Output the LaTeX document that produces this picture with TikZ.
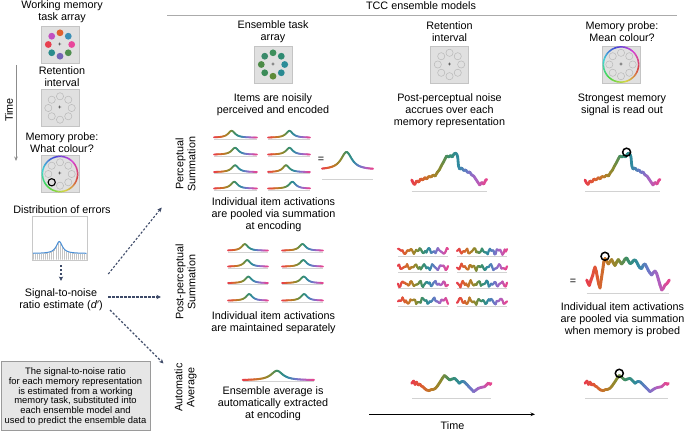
\documentclass[tikz,border=0pt]{standalone}
\usepackage{fontspec}
\setmainfont{Liberation Sans}
\usetikzlibrary{arrows.meta}
\definecolor{rb0}{HTML}{E83A50}
\definecolor{rb1}{HTML}{DE5A32}
\definecolor{rb2}{HTML}{C07A28}
\definecolor{rb3}{HTML}{8A8A2E}
\definecolor{rb4}{HTML}{3A8E6A}
\definecolor{rb5}{HTML}{2E8AA0}
\definecolor{rb6}{HTML}{6A78C8}
\definecolor{rb7}{HTML}{B060C0}
\definecolor{rb8}{HTML}{E8458C}
\definecolor{rb9}{HTML}{E8458C}
\definecolor{boxfill}{HTML}{E0E0E0}
\definecolor{boxedge}{HTML}{C4C4C4}
\definecolor{circgray}{HTML}{B9B9B9}
\definecolor{basecol}{HTML}{D2D2D2}
\definecolor{hdrcol}{HTML}{ABABAB}
\definecolor{dashblue}{HTML}{3D4A68}
\definecolor{distedge}{HTML}{C8C8C8}
\definecolor{histgray}{HTML}{C4C4C4}
\definecolor{distblue}{HTML}{4A8FD6}
\definecolor{notefill}{HTML}{E6E6E6}
\definecolor{noteedge}{HTML}{9A9A9A}
\definecolor{timegray}{HTML}{8C8C8C}
\newcommand\mainf{\fontsize{10.8}{12}\selectfont}
\newcommand\notef{\fontsize{9.4}{9.8}\selectfont}
% colour along the rainbow, t in [0,1]
\newcommand\rbsetcolor[1]{%
  \pgfmathsetmacro\rbt{max(0,min(0.9999,#1))}%
  \pgfmathtruncatemacro\rbs{floor(\rbt*8)}%
  \pgfmathtruncatemacro\rbn{\rbs+1}%
  \pgfmathtruncatemacro\rbp{round(100*(1-(\rbt*8-\rbs)))}%
  \colorlet{rbc}{rb\rbs!\rbp!rb\rbn}}
% rainbow curve from a function of \rt: x0, width, samples, line width, y expression
\newcommand\rbfunc[5]{%
  \def\rt{0}\pgfmathsetmacro\rbly{#5}\xdef\rbly{\rbly}\xdef\rblx{#1}%
  \foreach \i in {1,...,#3}{%
    \pgfmathsetmacro\rt{\i/#3}%
    \pgfmathsetmacro\rbx{#1+#2*\rt}%
    \pgfmathsetmacro\rby{#5}%
    \rbsetcolor{(\i-0.5)/#3}%
    \draw[rbc, line width=#4, line cap=round] (\rblx,\rbly) -- (\rbx,\rby);
    \xdef\rblx{\rbx}\xdef\rbly{\rby}%
  }}
% rainbow curve through points: x0, x1, line width, list macro
\newcommand\rbpts[4]{%
  \foreach \xx/\yy [remember=\xx as \px (initially -1), remember=\yy as \py (initially -1)] in #4 {%
    \ifdim\px pt<0pt\else
      \rbsetcolor{((\px+\xx)/2-#1)/(#2-#1)}%
      \draw[rbc, line width=#3, line cap=round] (\px,\py) -- (\xx,\yy);
    \fi}}
% small smooth bump: x0, width, baseline y, peak position, height
\newcommand\sbump[5]{%
  \draw[baseg] (#1,#3) -- ({#1+#2},#3);
  \rbfunc{#1}{#2}{36}{1.8}{#3-1.3-#5/(1+((\rt-#4)/0.095)^2)}}
% small noisy curve: x0, baseline y, a, b, p, q, seed
\newcommand\nsmall[7]{%
  \draw[baseg] (#1,#2) -- ({#1+50},#2);
  \pgfmathsetseed{#7}%
  \rbfunc{#1}{50}{44}{2.2}{#2-4.8-1.9*sin(#3*360*\rt+#5)-1.2*sin(#4*360*\rt+#6)-1.0*rand}}
\newcommand\shapeA{411.7/180, 413.2/183, 414.7/184.5, 416.7/181, 418.7/182, 420.7/179, 422.7/180, 425.2/177.5, 426.7/179, 428.7/176.5, 431.2/177, 433.2/175, 435.2/176, 437.2/172.5, 439.2/170, 441.2/166, 443.2/162.5, 445.2/158.5, 446.7/156, 448.7/157, 450.7/155.5, 452.2/157, 453.7/154.5, 455.2/153, 456.7/154, 457.7/157, 458.5/166, 459.7/169, 461.7/168, 463.7/170.5, 465.7/170, 467.7/172.5, 469.7/172, 471.7/175, 473.7/176, 475.7/179, 477.7/182, 479.7/185, 481.7/182.5, 483.7/184, 485.7/180, 486.7/179.5}
\newcommand\shapeB{586.7/280, 588/283, 589.3/285.5, 591/280, 592.7/275.5, 594/270, 595/267, 596.2/271, 597.3/277, 598.7/284, 600/288, 601.3/279, 602.7/270, 603.8/262, 605/258.5, 606.5/261, 608.3/264, 610/261.5, 611.7/259.5, 613.3/263, 615/265.5, 616.7/262, 618.3/259.5, 620/262, 621.7/264, 623.3/262, 625/259, 626.7/258, 628.3/261, 630/263.5, 631.7/263, 633.3/260.5, 635/260, 636.7/262, 638.3/265.5, 640/268, 641.7/268.5, 643.3/265, 645/264, 646.7/267, 648.3/270.5, 650/273, 651.7/275, 653.3/272.5, 655/271, 656.7/273.5, 658.3/279, 660/285, 661.7/290, 663.3/288.5, 665/285, 667/283.5, 669.3/280}
\newcommand\shapeC{585/383.3, 587/381, 588.5/384.5, 590/382, 591.7/385, 593.5/384, 595/386, 596.7/386.7, 598.5/388.5, 600.5/390, 603.3/390.7, 605.5/389.5, 607.5/389.5, 610/388.3, 612/386, 615/381.7, 617/378.5, 619.3/375.5, 621.5/377, 623/378.5, 625/380, 627.5/379, 630/378.3, 632.5/380.5, 635/383.3, 637.5/381.5, 640/381.7, 642.5/384, 645/386.7, 647.5/389, 650/391.7, 652.5/390, 655/388.3, 657.5/387.5, 661.7/386.7, 663.5/385, 665.5/383, 667/384.5, 668.3/383.3}
\newcommand\plusmark[2]{\node[font=\fontsize{6}{6}\selectfont] at (#1,#2) {+};}
\newcommand\emptyring[2]{\foreach \a in {0,45,...,315}{\draw[emptyc] ({#1+11.7*cos(\a)},{#2+11.7*sin(\a)}) circle[radius=3.6];}}
\newcommand\colwheel[2]{\foreach \a in {0,5,...,355}{%
  \pgfmathsetmacro\hh{mod(0.97+\a/360,1)}%
  \definecolor{wc}{hsb}{\hh,0.7,0.84}%
  \draw[wc, line width=1.5pt] ({#1+17.6*cos(\a)},{#2+17.6*sin(\a)}) -- ({#1+17.6*cos(\a+5.6)},{#2+17.6*sin(\a+5.6)});}}
\begin{document}
\begin{tikzpicture}[x=1pt,y=-1pt, every node/.style={inner sep=0pt, align=center, font=\mainf},
  arrbox/.style={draw=boxedge, fill=boxfill, line width=0.6pt, minimum width=38pt, minimum height=37pt},
  baseg/.style={draw=basecol, line width=0.9pt},
  emptyc/.style={draw=circgray, line width=0.5pt},
  probec/.style={draw=black, line width=1.5pt},
  dasharrow/.style={draw=dashblue, line width=1.1pt, dash pattern=on 2.2pt off 1.8pt, -{Stealth[length=4.5pt,width=4.2pt]}},
  timearrow/.style={line width=0.8pt, -{Stealth[length=4.5pt,width=3.6pt]}}]
\useasboundingbox (0,0) rectangle (685,433);

% ---------- left column ----------
\node (wmtitle) at (62,11.5) {Working memory\\task array};
\node[arrbox] (wmbox) at (60,44.5) {};
\plusmark{60}{44.5}
\foreach \a/\c in {-90/E0602E, -45/3A8FB5, 0/E8479B, 45/4F8F4F, 90/7464B5, 135/2A8C8C, 180/E8404F, 225/C24FC0}{
  \definecolor{dc}{HTML}{\c}
  \fill[dc] ({60+11.7*cos(\a)},{44.5+11.7*sin(\a)}) circle[radius=3.4];}
\node (rettitle) at (62,76.5) {Retention\\interval};
\node[arrbox] (retbox) at (60,108) {};
\plusmark{60}{108}
\emptyring{60}{108}
\node (probetitle) at (62,142.5) {Memory probe:\\What colour?};
\node[arrbox] (probebox) at (60,174) {};
\plusmark{60}{174}
\emptyring{60}{174}
\colwheel{60}{174}
\node[probec, circle, minimum size=7.2pt, line width=1.1pt] (wmprobe) at ({60+11.7*cos(135)},{174+11.7*sin(135)}) {};
\coordinate (tl0) at (16,65); \coordinate (tl1) at (16,161);
\draw[timearrow, draw=timegray] (tl0) -- (tl1);
\node[rotate=90] (timel) at (9,110) {Time};

\node (disttitle) at (62,209.5) {Distribution of errors};
\node[draw=distedge, fill=white, line width=0.6pt, minimum width=55pt, minimum height=44pt] (distbox) at (59.8,238) {};
\fill[histgray] (33,259.6) -- plot[domain=33:86.5, samples=90, smooth] (\x, {254-11.5/(1+((\x-59.3)/3.8)^2)}) -- (86.5,259.6) -- cycle;
\foreach \i in {0,...,26}{
  \draw[white, line width=0.35pt] ({34.2+\i*1.95},259.6) -- ({34.2+\i*1.95},{254.5-11.5/(1+((34.2+\i*1.95-59.3)/3.8)^2)});}
\draw[distblue, line width=1pt] plot[domain=33:86.5, samples=90, smooth] (\x, {253.5-12/(1+((\x-59.3)/3.8)^2)});
\node (snr) at (61,299.5) {Signal-to-noise\\ratio estimate (\textit{d}′)};
\coordinate (d0) at (61,265); \coordinate (d1) at (61,281);
\draw[dasharrow] (d0) -- (d1);
\coordinate (s1) at (108.3,274); \coordinate (e1) at (161.7,207.5);
\coordinate (s2) at (108.3,297); \coordinate (e2) at (161,297);
\coordinate (s3) at (110,310); \coordinate (e3) at (163.5,363.5);
\draw[dasharrow] (s1) -- (e1);
\draw[dasharrow] (s2) -- (e2);
\draw[dasharrow] (s3) -- (e3);
\node[draw=noteedge, fill=notefill, line width=0.5pt, minimum width=149pt, minimum height=69pt] (note) at (75.5,395.5) {};
\node[font=\notef] (notetext) at (75.5,396.5) {The signal-to-noise ratio\\for each memory representation\\is estimated from a working\\memory task, substituted into\\each ensemble model and\\used to predict the ensemble data};

% ---------- header ----------
\node (tcc) at (421,6) {TCC ensemble models};
\coordinate (h0) at (167,15.5); \coordinate (h1) at (677,15.5);
\draw[hdrcol, line width=1pt] (h0) -- (h1);

\node (c1t) at (273,31.5) {Ensemble task\\array};
\node[arrbox] (c1box) at (273,64.5) {};
\plusmark{273}{64.5}
\foreach \a/\c in {-90/3F8F5C, -45/2F8B72, 0/2C8C98, 45/2A8A92, 90/5E8A38, 135/3B8B58, 180/4D8B47, 225/3A8A6A}{
  \definecolor{dc}{HTML}{\c}
  \fill[dc] ({273+11.7*cos(\a)},{64.5+11.7*sin(\a)}) circle[radius=3.4];}
\node (c1d) at (273,105) {Items are noisily\\perceived and encoded};

\node (c2t) at (449.5,31.5) {Retention\\interval};
\node[arrbox] (c2box) at (449.5,64.5) {};
\plusmark{449.5}{64.5}
\emptyring{449.5}{64.5}
\node (c2d) at (449.5,111) {Post-perceptual noise\\accrues over each\\memory representation};

\node (c3t) at (622,31.5) {Memory probe:\\Mean colour?};
\node[arrbox] (c3box) at (621,64.5) {};
\plusmark{621}{64.5}
\emptyring{621}{64.5}
\colwheel{621}{64.5}
\node (c3d) at (622,105) {Strongest memory\\signal is read out};

% ---------- row labels ----------
\node[rotate=90] (r1l) at (185.5,164) {Perceptual\\Summation};
\node[rotate=90] (r2l) at (185.5,282) {Post-perceptual\\Summation};
\node[rotate=90] (r3l) at (185.5,387.5) {Automatic\\Average};

% ---------- row 1 ----------
\sbump{214}{43}{139}{0.41}{7}
\sbump{214}{43}{156}{0.49}{7}
\sbump{214}{43}{173.5}{0.49}{7}
\sbump{214}{43}{190}{0.47}{7}
\sbump{268}{42}{139}{0.51}{7}
\sbump{268}{42}{156}{0.51}{7}
\sbump{268}{42}{173.5}{0.43}{7}
\sbump{268}{42}{190}{0.58}{7}
\node (eq1) at (321,159.5) {=};
\draw[baseg] (322,179.3) -- (373,179.3);
\rbfunc{322}{51}{48}{2}{169.8-17.8/(1+((\rt-0.48)/0.13)^2)}
\node (r1t) at (273.5,215) {Individual item activations\\are pooled via summation\\at encoding};

\draw[baseg] (411.7,191.7) -- (486.7,191.7);
\rbpts{411.7}{486.7}{2.8}{\shapeA}
\draw[baseg] (585,191.7) -- (660,191.7);
\begin{scope}[xshift=173.3pt]
\rbpts{411.7}{486.7}{2.8}{\shapeA}
\end{scope}
\node[probec, circle, minimum size=8pt, line width=1.5pt] (pk1) at (626.6,152.2) {};

% ---------- row 2 ----------
\sbump{228}{40}{252}{0.42}{6.7}
\sbump{228}{40}{268}{0.48}{6.7}
\sbump{228}{40}{284.5}{0.51}{6.7}
\sbump{228}{40}{302}{0.53}{6.7}
\sbump{282}{41}{252}{0.50}{6.7}
\sbump{282}{41}{268}{0.52}{6.7}
\sbump{282}{41}{284.5}{0.53}{6.7}
\sbump{282}{41}{302}{0.54}{6.7}
\node (r2t) at (273.5,323) {Individual item activations\\are maintained separately};

\nsmall{398}{256}{5.2}{11.3}{20}{70}{11}
\nsmall{398}{272}{5.7}{12.1}{100}{10}{12}
\nsmall{398}{288.5}{6.3}{10.7}{200}{150}{13}
\nsmall{398}{306}{4.8}{12.7}{300}{40}{14}
\nsmall{457}{256}{6.1}{13.3}{60}{220}{15}
\nsmall{457}{272}{5.4}{11.9}{250}{80}{16}
\nsmall{457}{288.5}{6.6}{12.4}{140}{300}{17}
\nsmall{457}{306}{5.0}{10.9}{330}{190}{18}

\node (eq2) at (573,281.5) {=};
\draw[baseg] (586.7,293.3) -- (669.3,293.3);
\rbpts{586.7}{669.3}{3}{\shapeB}
\node[probec, circle, minimum size=8pt, line width=1.5pt] (pk2) at (605,256.3) {};
\node (r2p) at (622.5,320) {Individual item activations\\are pooled via summation\\when memory is probed};

% ---------- row 3 ----------
\draw[baseg] (242.7,381.6) -- (314,381.6);
\rbfunc{242.7}{71.3}{48}{2}{380.3-9.6/(1+((\rt-0.48)/0.1)^2)}
\node (r3t) at (273,404) {Ensemble average is\\automatically extracted\\at encoding};

\draw[baseg] (412,398.3) -- (491,398.3);
\begin{scope}[xshift=-145.2pt, xscale=0.952]
\rbpts{585}{668.3}{2.8}{\shapeC}
\end{scope}
\draw[baseg] (585,398.3) -- (668.3,398.3);
\rbpts{585}{668.3}{2.8}{\shapeC}
\node[probec, circle, minimum size=8pt, line width=1.5pt] (pk3) at (619.3,373.3) {};

\coordinate (tb0) at (369,414.3); \coordinate (tb1) at (535,414.3);
\draw[timearrow] (tb0) -- (tb1);
\node (timeb) at (452.5,426) {Time};
\end{tikzpicture}
\end{document}
